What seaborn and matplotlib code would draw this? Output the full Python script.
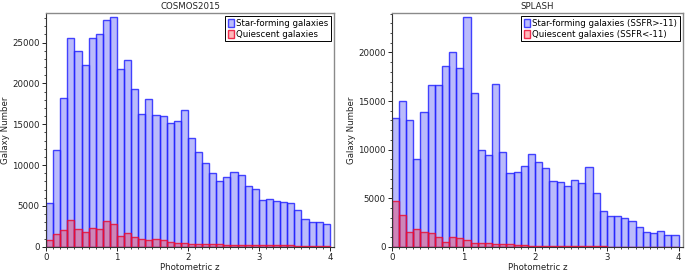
import numpy as np
import pandas as pd
import matplotlib
matplotlib.use("Agg")
import matplotlib.pyplot as plt
from matplotlib.ticker import MultipleLocator
import seaborn as sns

# histogram bins: photometric z from 0 to 4, width 0.1
bin_edges = np.round(np.arange(0, 4.05, 0.1), 2)
bin_centres = bin_edges[:-1] + 0.05

# COSMOS2015 counts per bin
sf_cosmos = [5300, 11800, 18200, 25500, 24000, 22200, 25500, 26000, 27800, 28100,
             21700, 22900, 19300, 16200, 18100, 16100, 16000, 15200, 15400, 16700,
             13300, 11600, 10200, 9000, 8100, 8500, 9200, 8800, 7500, 7100,
             5700, 5900, 5600, 5450, 5400, 4500, 3400, 3000, 3000, 2850]
q_cosmos = [800, 1600, 2100, 3300, 2200, 1800, 2300, 2200, 3100, 2800,
            1350, 1700, 1150, 950, 870, 900, 870, 630, 520, 480,
            400, 350, 330, 320, 300, 280, 250, 240, 230, 220,
            200, 190, 180, 170, 160, 140, 130, 120, 110, 100]

# SPLASH counts per bin
sf_splash = [13300, 15000, 13000, 9000, 13900, 16700, 16600, 18600, 20000, 18400,
             23700, 15800, 10000, 9400, 16800, 9800, 7600, 7700, 8300, 9500,
             8700, 8100, 6800, 6700, 6300, 6900, 6600, 8250, 5500, 3700,
             3150, 3200, 3000, 2650, 2000, 1550, 1400, 1600, 1250, 1250]
q_splash = [4700, 3300, 1560, 1840, 1500, 1400, 1050, 480, 1020, 880,
            680, 440, 400, 340, 240, 300, 300, 170, 140, 110,
            100, 90, 80, 70, 60, 60, 50, 50, 40, 40,
            30, 30, 30, 30, 20, 20, 20, 20, 20, 20]

panels = [
    ("COSMOS2015", sf_cosmos, q_cosmos,
     "Star-forming galaxies", "Quiescent galaxies", 28600),
    ("SPLASH", sf_splash, q_splash,
     "Star-forming galaxies (SSFR>-11)", "Quiescent galaxies (SSFR<-11)", 24050),
]

plt.rcParams["font.family"] = ["DejaVu Sans"]
plt.rcParams["font.size"] = 6.2

fig = plt.figure(figsize=(6.85, 2.73), dpi=100)
axes = [fig.add_axes([0.0672, 0.096, 0.4205, 0.856]),
        fig.add_axes([0.572, 0.096, 0.4248, 0.856])]

blue_face = (0.0, 0.02, 0.95, 0.27)
blue_edge = (0.15, 0.15, 1.0, 0.85)
red_face = (1.0, 0.0, 0.05, 0.28)
red_edge = (0.92, 0.05, 0.2, 0.85)

for ax, (title, sf, q, sf_lab, q_lab, ymax) in zip(axes, panels):
    df = pd.DataFrame({"z": bin_centres, "sf": sf, "q": q})
    sns.histplot(data=df, x="z", weights="sf", binwidth=0.1, binrange=(0, 4),
                 ax=ax, facecolor=blue_face, edgecolor=blue_edge,
                 linewidth=1.0, label=sf_lab)
    sns.histplot(data=df, x="z", weights="q", binwidth=0.1, binrange=(0, 4),
                 ax=ax, facecolor=red_face, edgecolor=red_edge,
                 linewidth=1.0, label=q_lab)
    ax.set_xlim(0, 4.06)
    ax.set_ylim(0, ymax)
    ax.set_title(title, fontsize=6.2, pad=3, color="#222222")
    ax.set_xlabel("Photometric z", fontsize=6.2, labelpad=0.5, color="#222222")
    ax.set_ylabel("Galaxy Number", fontsize=6.2, labelpad=1.5, color="#222222")
    ax.xaxis.set_major_locator(MultipleLocator(1))
    ax.xaxis.set_minor_locator(MultipleLocator(0.1))
    ax.yaxis.set_major_locator(MultipleLocator(5000))
    ax.yaxis.set_minor_locator(MultipleLocator(1000))
    ax.tick_params(which="major", length=3, width=0.6, labelsize=6.2, pad=1.5,
                   labelcolor="#222222")
    ax.tick_params(which="minor", length=1.5, width=0.5)
    for side in ["top", "right"]:
        ax.spines[side].set_color("#8a8a8a")
        ax.spines[side].set_linewidth(1.0)
    for side in ["left", "bottom"]:
        ax.spines[side].set_color("#333333")
        ax.spines[side].set_linewidth(0.8)
    leg = ax.legend(loc="upper right", fontsize=6.2, fancybox=False,
                    framealpha=1, edgecolor="black", borderaxespad=0.35,
                    handlelength=0.7, handleheight=1.0, handletextpad=0.3,
                    labelspacing=0.25, borderpad=0.3)
    leg.get_frame().set_linewidth(0.7)

fig.savefig("out.png", dpi=100)
